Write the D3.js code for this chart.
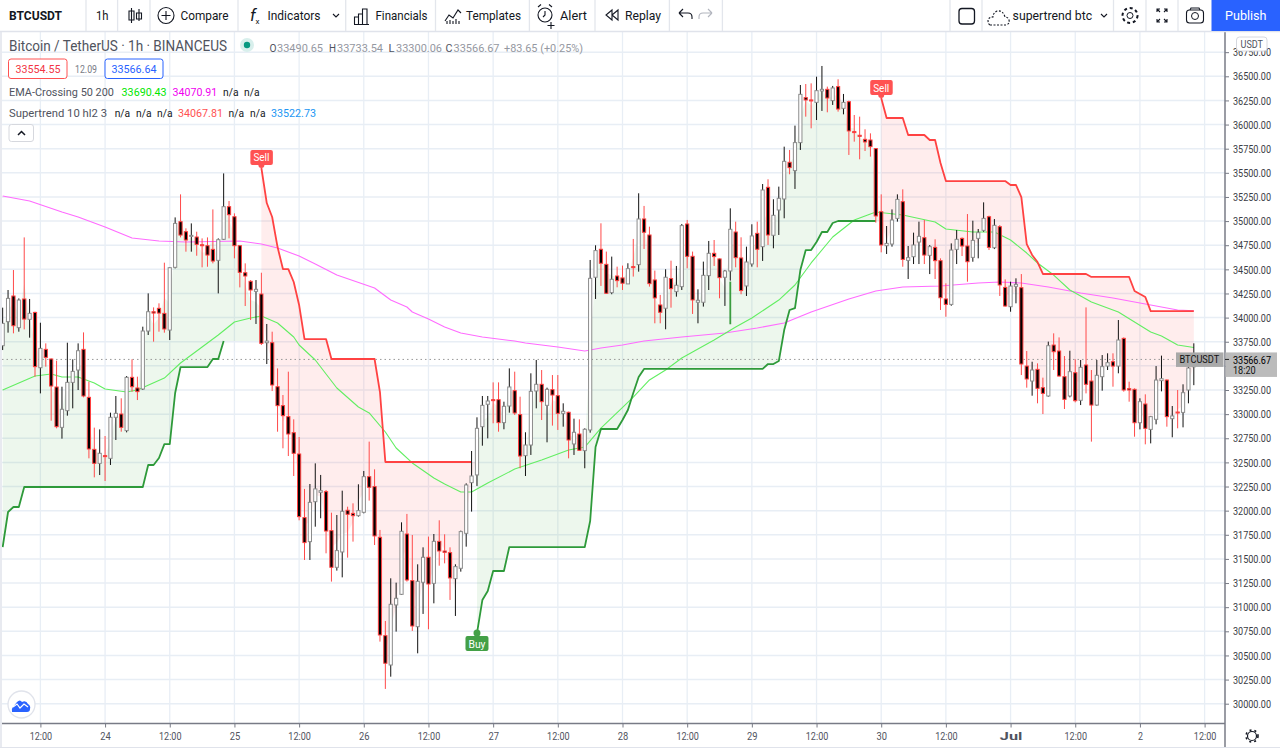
<!DOCTYPE html>
<html><head><meta charset="utf-8">
<style>html,body{margin:0;padding:0;background:#fff;overflow:hidden}svg{display:block}text{font-family:Roboto,sans-serif}</style>
<script src="https://cdnjs.cloudflare.com/ajax/libs/d3/7.8.5/d3.min.js"></script>
</head><body><svg id="c" width="1280" height="748"></svg>
<script>
// ---------- DATA: hourly candles ----------
const firstHour = 5; // hours counted from 23 Jun 00:00
const opens = [33709,33958,34224,33896,34193,33982,34054,33481,33671,33571,33281,32863,33036,33329,33457,33671,33174,32635,32490,32570,32542,32967,33001,32829,33381,33271,33260,33861,34061,34096,34044,33871,34521,34994,34890,34845,34835,34755,34745,34707,34593,34811,35149,35045,34745,34465,34376,34272,34244,33740,33740,33284,33088,32974,32808,32587,31928,31679,32093,32190,32197,31793,31413,31572,32004,31972,31948,31983,32352,32249,31724,30705,30401,31023,31133,31758,31275,30798,31258,31517,31247,31682,31582,31565,31296,31403,31765,32290,32370,32870,33102,33150,33150,32912,33084,33243,32995,32570,32680,33240,33309,33091,33254,33191,33008,33019,32691,32794,32622,32836,34418,34708,34552,34259,34431,34411,34349,34528,34549,35022,34856,34390,34131,34097,34404,34269,34321,34970,34635,34159,34159,34435,34666,34608,34418,34483,34887,34618,34328,34556,34873,34735,35350,34853,35115,35229,35609,35523,35813,36279,36255,36230,36348,36365,36248,36393,36168,36237,35927,35889,35847,35840,35751,35097,34745,34762,35028,35201,34593,34631,34783,34828,34645,34728,34590,34193,34137,34707,34821,34742,34624,34821,34904,35045,34724,34942,34313,34113,34324,34310,33498,33343,33464,33274,33188,33716,33654,33388,33188,33429,33143,33509,33343,33094,33388,33498,33543,33498,33785,33264,33257,32911,33105,32842,32946,33347,33353,32953,33022,33018,33250,33490.65];
const highs = [34103,34286,34493,34199,34831,34193,34061,33947,33733,33578,33554,33284,33740,33568,33733,33847,33336,32860,32842,32773,33015,33188,33164,33395,33568,33388,33906,34251,34106,34148,34569,34521,35038,35277,34925,34976,34890,34821,34831,35121,34821,35494,35208,35080,34752,34562,34389,34389,34465,33934,33854,33474,33198,33440,32946,32763,32225,32276,32490,32370,32214,31979,31955,32207,32041,32076,32273,32411,32715,32428,31800,30857,31299,31254,31879,31966,31748,31444,31620,31731,31758,31900,31755,31620,31444,31793,32283,32618,32967,33188,33188,33329,33329,33129,33474,33440,33181,32812,33423,33561,33457,33274,33405,33405,33112,33026,32953,32946,32853,34597,34749,34977,34684,34632,34528,34539,34563,34815,35288,35157,34942,34487,34235,34501,34590,34535,34970,35012,34684,34293,34580,34794,34804,34614,34494,35132,34994,34832,34735,34967,34994,35384,35433,35226,35357,35771,35737,35989,36410,36420,36427,36496,36607,36393,36400,36469,36317,36248,36099,36082,35951,35909,35754,35277,34949,35121,35277,35329,34742,34880,34994,35011,34752,34811,34614,34355,34769,34907,34831,35073,35004,34918,35194,35056,35021,34959,34396,34372,34407,34451,33654,33543,33526,33378,33751,33837,33795,33602,33657,33568,33561,34106,33457,33561,33612,33630,33630,33975,33795,33336,33267,33164,33205,32981,33498,33606,33360,33084,33250,33309,33492,33733.54];
const lows = [33664,33844,33837,33854,33878,33792,33388,33215,33492,32932,32853,32746,32984,33060,33250,33174,32542,32345,32369,32307,32473,32732,32818,32811,33233,33146,33250,33820,33751,33854,33844,33768,34510,34831,34683,34683,34641,34521,34527,34562,34251,34804,34821,34614,34313,34120,33975,33934,33716,33519,33239,32818,32646,32566,32359,31900,31489,31489,31834,31921,31558,31265,31379,31309,31513,31679,31938,31972,32104,31644,30643,30153,30280,30747,31126,31265,30754,30522,30930,30771,31040,31430,31454,31075,30909,31368,31627,31990,32256,32673,32749,32905,32818,32843,33015,32991,32439,32359,32577,33060,32939,32708,32881,32836,32870,32542,32577,32622,32439,32808,34193,34328,34245,34242,34314,34286,34349,34425,34476,34711,34321,33941,33941,33879,34103,34217,34286,34511,34038,33941,34114,34286,34535,34200,34121,34383,34521,34242,34224,34528,34521,34587,34753,34718,34856,35029,35485,35333,35737,36082,35961,36047,36141,36127,36203,36134,36106,35685,35823,35640,35726,35668,34984,34676,34659,34735,34994,34527,34400,34555,34555,34555,34451,34400,34079,34009,34123,34555,34638,34372,34579,34614,34890,34700,34710,34224,34113,34061,34148,33405,33274,33191,33112,33001,33181,33457,33388,33053,33174,33122,33094,33215,32715,33088,33243,33457,33284,33423,33233,33129,32766,32842,32687,32697,32894,33236,32870,32760,32853,32863,33112,33300.06];
const closes = [33940,34199,33916,34182,33985,34044,33492,33681,33588,33291,32870,33050,33329,33443,33657,33188,32639,32490,32594,32563,32967,33008,32863,33381,33284,33233,33861,34061,34047,34047,33882,34517,34976,34855,34804,34852,34759,34748,34648,34586,34807,35149,35066,34745,34469,34431,34286,34293,33733,33757,33302,33088,32984,32794,32594,31938,31669,32086,32225,32207,31789,31413,31586,31993,31962,31948,32000,32352,32242,31738,30712,30419,31030,31092,31786,31282,30805,31268,31517,31240,31682,31582,31568,31303,31420,31783,32266,32359,32853,33091,33136,33143,32912,33081,33281,33012,32566,32680,33236,33309,33129,33257,33198,33008,33029,32732,32812,32625,32843,34407,34694,34563,34252,34397,34383,34356,34507,34518,35022,34884,34352,34204,34055,34418,34300,34335,34953,34635,34183,34179,34438,34666,34632,34414,34483,34915,34621,34280,34576,34846,34708,35322,34856,35060,35236,35619,35554,35813,36313,36255,36251,36351,36365,36275,36379,36161,36230,35934,35920,35878,35820,35771,35053,34752,34769,35011,35225,34603,34621,34752,34842,34648,34735,34590,34206,34137,34700,34811,34742,34579,34800,34880,35028,34728,34956,34338,34120,34327,34344,33519,33364,33457,33267,33215,33709,33647,33395,33153,33440,33139,33485,33309,33094,33402,33492,33533,33498,33768,33250,33250,32911,33129,32853,32974,33353,33367,32974,32981,33015,33222,33478,33566.67];

// Supertrend segments (hour, price at each vertex)
const upA_h = [5,6,7,8,9,31,32,33,34,35,36,37,38,43,44,45,46,53];
const upA_p = [31623,31986,32038,32038,32245,32245,32473,32473,32545,32690,32690,33219,33488,33488,33571,33571,33757,33757];
const downA_h = [53,54,55,56,57,58,59,60,61,65,66,74,75,76,92];
const downA_p = [35550,35187,35042,34731,34503,34503,34369,34131,33778,33778,33571,33571,33229,32504,32504];
const upB_h = [93,94,95,96,98,99,113,114,115,116,119,120,121,122,123,124,146,147,148,149,150,151,152,153,154,155,156,157,158,159,160,167];
const upB_p = [30732,31074,31168,31375,31375,31623,31623,31893,32659,32846,32846,32939,33043,33219,33385,33468,33468,33519,33519,33550,33871,34079,34099,34493,34700,34700,34783,34887,34887,34980,35001,35001];
const downB_h = [168,169,172,173,176,177,178,179,180,191,192,193,194,195,196,197,198,206,207,214,215,216,217,218,226];
const downB_p = [36275,36068,36068,35892,35892,35840,35840,35602,35415,35415,35374,35374,35249,34762,34649,34576,34452,34452,34421,34421,34276,34244,34213,34067,34067];

// EMA lines
const ema200_h = [5,10,16,19,24,29,34,39,49,53,56,60,63,67,74,77,80,81,84,87,90,94,100,102,108,113,116,120,124,131,139,145,150,155,162,167,172,179,186,190,194,199,205,211,217,223,226];
const ema200_p = [35260,35208,35094,35042,34939,34825,34794,34783,34794,34762,34721,34638,34555,34441,34307,34182,34110,34058,33985,33903,33840,33799,33757,33737,33695,33654,33685,33716,33757,33799,33840,33892,33944,34058,34193,34276,34317,34327,34358,34369,34358,34317,34255,34203,34141,34079,34071];
const ema50_h = [5,8,11,14,16,19,22,24,28,30,35,38,42,45,48,51,53,56,59,60,63,67,71,73,76,78,81,85,87,90,92,95,100,105,110,113,116,122,125,128,131,133,137,141,144,149,152,155,159,163,167,172,178,180,185,189,192,195,197,200,203,207,212,218,220,223,226];
const ema50_p = [33250,33322,33395,33416,33385,33385,33322,33260,33229,33250,33374,33530,33695,33820,33954,33996,34017,33944,33799,33716,33561,33271,33074,33012,32815,32649,32494,32338,32276,32193,32193,32286,32431,32525,32628,32659,32856,33177,33354,33457,33581,33644,33768,33903,33996,34182,34338,34566,34835,35011,35094,35063,34990,34918,34887,34887,34804,34669,34566,34441,34286,34162,34058,33851,33809,33716,33690];

// Buy / sell signals
const signalHours = [53,93,168];
const signalPrices = [35550,30732,36275];
const signalLabels = ['Sell','Buy','Sell'];

// Odd green wick segment seen below one candle
const greenWickHour = 140, greenWickPrices = [34373,33931];

// Ticks
const priceTicks = d3.range(30000,36751,250);
const hiddenPriceLabel = 33500; // sits under the last-price tag in the reference
const timeTickHours = d3.range(12,229,12);
const timeTickLabels = ['12:00','24','12:00','25','12:00','26','12:00','27','12:00','28','12:00','29','12:00','30','12:00','Jul','12:00','2','12:00'];
const lastPrice = 33566.67;

// ---------- SCALES ----------
const xS = d3.scaleLinear().domain([12,228]).range([40.4,1204.6]);
const yS = d3.scaleLinear().domain([30000,36500]).range([703.7,76.3]);
const paneR = 1225, paneT = 32, paneB = 723.5;

const svg = d3.select('#c');
const C = {grid:'#e8eef5',axis:'#787b86',up:'#000',upB:'#8c8c8c',dn:'#ff4a4a',txt:'#50535e',grey:'#787b86',sep:'#e3e6ec'};
svg.append('defs').append('clipPath').attr('id','pane').append('rect').attr('x',2).attr('y',paneT).attr('width',paneR-2).attr('height',paneB-paneT);

function tx(g,str,x,y,w,size,fill,o={}){
  return g.append('text').text(str).attr('x',x).attr('y',y).attr('font-size',size).attr('fill',fill)
    .attr('font-weight',o.bold?700:400).attr('text-anchor',o.anchor||'start').attr('textLength',w).attr('lengthAdjust','spacingAndGlyphs');
}

// ---------- GRID ----------
const grid = svg.append('g');
grid.selectAll('.h').data(priceTicks).join('line').attr('x1',2).attr('x2',paneR).attr('y1',d=>yS(d)).attr('y2',d=>yS(d)).attr('stroke',C.grid).attr('stroke-width',1.5);
grid.selectAll('.v').data(timeTickHours).join('line').attr('x1',d=>xS(d)).attr('x2',d=>xS(d)).attr('y1',paneT).attr('y2',paneB).attr('stroke',C.grid).attr('stroke-width',1.3);

const pane = svg.append('g').attr('clip-path','url(#pane)');

// ---------- FILLS between supertrend and candle mid ----------
const hl2 = h => { const i = h-firstHour; return (highs[i]+lows[i])/2; };
function fillSeg(hs,ps,h0,h1,color){
  const st = d3.scaleLinear().domain(hs).range(ps).clamp(true);
  const hrs = d3.range(h0,h1+1);
  const a = d3.area().x(h=>xS(h)).y0(h=>yS(st(h))).y1(h=>yS(hl2(h)));
  pane.append('path').attr('d',a(hrs)).attr('fill',color);
}
fillSeg(upA_h,upA_p,5,53,'rgba(76,175,80,0.10)');
fillSeg(downA_h,downA_p,53,93,'rgba(255,82,82,0.10)');
fillSeg(upB_h,upB_p,93,168,'rgba(76,175,80,0.10)');
fillSeg(downB_h,downB_p,168,226,'rgba(255,82,82,0.10)');

// last price dotted line
pane.append('line').attr('x1',2).attr('x2',paneR).attr('y1',yS(lastPrice)).attr('y2',yS(lastPrice)).attr('stroke','#999').attr('stroke-width',1).attr('stroke-dasharray','1.5 3');

// ---------- LINES ----------
const lineOf = (hs,ps,color,w) => pane.append('path')
  .attr('d',d3.line().x((d,i)=>xS(hs[i])).y((d,i)=>yS(ps[i]))(ps))
  .attr('fill','none').attr('stroke',color).attr('stroke-width',w).attr('stroke-linejoin','round');
lineOf(ema200_h,ema200_p,'#ff6bff',1.1);
lineOf(ema50_h,ema50_p,'#62ee62',1.1);
lineOf(upA_h.slice(0,-1),upA_p.slice(0,-1),'#2e9a3a',1.8);
lineOf(upB_h,upB_p,'#2e9a3a',1.8);
lineOf(downA_h,downA_p,'#ff4242',1.8);
lineOf(downB_h,downB_p,'#ff4242',1.8);

// ---------- CANDLES ----------
pane.append('line').attr('x1',xS(greenWickHour)).attr('x2',xS(greenWickHour)).attr('y1',yS(greenWickPrices[0])).attr('y2',yS(greenWickPrices[1])).attr('stroke','#3a9c3f').attr('stroke-width',1.8);
const candles = pane.append('g').selectAll('g').data(opens.map((o,i)=>i)).join('g');
const isUp = i => closes[i]>=opens[i];
candles.append('line')
  .attr('x1',i=>xS(firstHour+i)).attr('x2',i=>xS(firstHour+i))
  .attr('y1',i=>yS(highs[i])).attr('y2',i=>yS(lows[i]))
  .attr('stroke',i=>isUp(i)?'#111':'#ff4a4a').attr('stroke-width',1);
candles.append('rect')
  .attr('x',i=>xS(firstHour+i)-1.6).attr('width',3.2)
  .attr('y',i=>yS(Math.max(opens[i],closes[i])))
  .attr('height',i=>Math.max(1,Math.abs(yS(opens[i])-yS(closes[i]))))
  .attr('fill',i=>isUp(i)?'#fff':'#000')
  .attr('stroke',i=>isUp(i)?C.upB:'#ff4040').attr('stroke-width',1);

// ---------- SIGNAL LABELS ----------
const sig = pane.append('g').selectAll('g').data(signalLabels.map((s,i)=>i)).join('g')
  .attr('transform',i=>`translate(${xS(signalHours[i])},${yS(signalPrices[i])})`);
sig.each(function(i){
  const g = d3.select(this), sell = signalLabels[i]==='Sell', col = sell?'#ff5252':'#43a047';
  if(sell){
    g.append('circle').attr('cy',-3).attr('r',3).attr('fill',col);
    g.append('rect').attr('x',-11).attr('y',-18).attr('width',22.5).attr('height',15).attr('rx',2).attr('fill',col);
    tx(g,'Sell',-8,-6.5,16,11,'#fff');
  } else {
    g.append('circle').attr('r',3.5).attr('fill',col);
    g.append('rect').attr('x',-11.5).attr('y',3).attr('width',23).attr('height',15).attr('rx',2).attr('fill',col);
    tx(g,'Buy',-8.5,14.5,17,11,'#fff');
  }
});

// ---------- AXES ----------
const yAxis = svg.append('g').attr('transform',`translate(${paneR},0)`)
  .call(d3.axisRight(yS).tickValues(priceTicks).tickSize(4).tickPadding(4).tickFormat(d=>d===hiddenPriceLabel?'':d3.format('.2f')(d)));
yAxis.select('.domain').remove();
yAxis.selectAll('line').attr('stroke',C.axis);
yAxis.selectAll('text').filter(d=>d===hiddenPriceLabel).remove();
yAxis.selectAll('text').attr('font-size',11.5).attr('fill','#3b3d45').attr('textLength',38).attr('lengthAdjust','spacingAndGlyphs').attr('font-family','Roboto');
const xAxis = svg.append('g').attr('transform',`translate(0,${paneB})`)
  .call(d3.axisBottom(xS).tickValues(timeTickHours).tickSize(4).tickPadding(4).tickFormat((d,i)=>timeTickLabels[i]));
xAxis.select('.domain').remove();
xAxis.selectAll('line').attr('stroke',C.axis);
xAxis.selectAll('text').attr('font-size',11.5).attr('fill','#50535e').attr('font-family','Roboto')
  .attr('font-weight',(d,i)=>timeTickLabels[i]==='Jul'?700:400)
  .attr('textLength',(d,i)=>timeTickLabels[i].length>2?22.5:(timeTickLabels[i].length>1?10.5:5))
  .attr('lengthAdjust','spacingAndGlyphs');
svg.append('line').attr('x1',2).attr('x2',paneR).attr('y1',paneB).attr('y2',paneB).attr('stroke',C.axis).attr('stroke-width',1.5);
svg.append('line').attr('x1',paneR).attr('x2',paneR).attr('y1',paneT).attr('y2',748).attr('stroke',C.axis).attr('stroke-width',1.5);
svg.append('line').attr('x1',1).attr('x2',1).attr('y1',paneT).attr('y2',748).attr('stroke','#e0e3eb').attr('stroke-width',1.5);
svg.append('line').attr('x1',0).attr('x2',1280).attr('y1',747.5).attr('y2',747.5).attr('stroke','#e0e3eb');

// ---------- PRICE TAGS ----------
const ly = yS(lastPrice);
svg.append('rect').attr('x',1176).attr('y',ly-7).attr('width',47.5).attr('height',14.5).attr('fill','#a9a9a9');
tx(svg,'BTCUSDT',1179.5,ly+4,39.7,11,'#111');
svg.append('rect').attr('x',paneR+.5).attr('y',ly-7).attr('width',51.5).attr('height',24.5).attr('fill','#bbbbbb');
svg.append('line').attr('x1',paneR).attr('x2',paneR+4).attr('y1',ly).attr('y2',ly).attr('stroke','#222');
tx(svg,'33566.67',1233,ly+4.3,38,11.5,'#000');
tx(svg,'18:20',1233,ly+14.5,22.7,11.5,'#111');
svg.append('rect').attr('x',1236.5).attr('y',37).attr('width',30.5).attr('height',14).attr('rx',3).attr('fill','#fff').attr('stroke','#d6d8de');
tx(svg,'USDT',1240.5,47.8,22.5,10.5,'#50535e');

// ---------- LEGENDS ----------
const L = svg.append('g');
tx(L,'Bitcoin / TetherUS · 1h · BINANCEUS',9,50.5,218,14.5,C.txt);
L.append('circle').attr('cx',247).attr('cy',45).attr('r',7).attr('fill','#d8efec');
L.append('circle').attr('cx',247).attr('cy',45).attr('r',3.2).attr('fill','#089981');
const ohlcX = [[269.5,'O',7],[277,'33490.65',46],[329,'H',7],[337,'33733.54',46],[388.5,'L',6],[396,'33300.06',46],[445.5,'C',7],[453.5,'33566.67',46],[504,'+83.65 (+0.25%)',79]];
ohlcX.forEach((d,i)=>tx(L,d[1],d[0],51.5,d[2],11.5,(i<8&&i%2==0)?'#50535e':'#9598a1'));
L.append('rect').attr('x',8.5).attr('y',59).attr('width',58.5).attr('height',19.5).attr('rx',2.5).attr('fill','#fff').attr('stroke','#ff5252');
tx(L,'33554.55',15.5,73,45,11.5,'#f23645');
tx(L,'12.09',75,72.5,22,10.5,'#787b86');
L.append('rect').attr('x',105).attr('y',59).attr('width',58).attr('height',19.5).attr('rx',2.5).attr('fill','#fff').attr('stroke','#2962ff');
tx(L,'33566.64',111.5,73,45,11.5,'#2962ff');
tx(L,'EMA-Crossing 50 200',9,96.3,105,11.5,C.txt);
tx(L,'33690.43',121.6,96.3,45,11.5,'#00e600');
tx(L,'34070.91',172.6,96.3,44.5,11.5,'#f000f0');
tx(L,'n/a',223,96.3,15.5,11.5,'#131722');
tx(L,'n/a',244,96.3,15.5,11.5,'#131722');
tx(L,'Supertrend 10 hl2 3',9,117,98,11.5,C.txt);
tx(L,'n/a',114.7,117,15.5,11.5,'#131722');
tx(L,'n/a',136,117,15.5,11.5,'#131722');
tx(L,'n/a',157,117,15.5,11.5,'#131722');
tx(L,'34067.81',178,117,45,11.5,'#ff5252');
tx(L,'n/a',228.6,117,15.5,11.5,'#131722');
tx(L,'n/a',250,117,15.5,11.5,'#131722');
tx(L,'33522.73',271,117,45,11.5,'#2196f3');
L.append('rect').attr('x',9).attr('y',124.5).attr('width',24.5).attr('height',17).attr('rx',2.5).attr('fill','#fff').attr('stroke','#d6d8de');
L.append('path').attr('d','M18 135l3.5-3.5l3.5 3.5').attr('fill','none').attr('stroke','#131722').attr('stroke-width',1.5);

// ---------- TOOLBAR ----------
const T = svg.append('g');
T.append('rect').attr('width',1280).attr('height',31).attr('fill','#fff');
T.append('line').attr('x1',0).attr('x2',1280).attr('y1',31.5).attr('y2',31.5).attr('stroke','#e0e3eb').attr('stroke-width',1.5);
[86,117.6,150,238,345.7,435.5,529.4,595,669.4,722.4,950,982,1113.5,1146,1178].forEach(x=>T.append('line').attr('x1',x).attr('x2',x).attr('y1',0).attr('y2',31).attr('stroke',C.sep).attr('stroke-width',1.3));
T.append('rect').attr('x',1211.5).attr('width',68.5).attr('height',31).attr('fill','#2962ff');
tx(T,'BTCUSDT',9,19.5,53,12.5,'#131722',{bold:true});
tx(T,'1h',96,19.5,12.5,13,'#131722');
tx(T,'Compare',180.5,19.5,48,13,'#131722');
tx(T,'Indicators',267.5,19.5,53,13,'#131722');
tx(T,'Financials',375.5,19.5,52,13,'#131722');
tx(T,'Templates',466,19.5,55,13,'#131722');
tx(T,'Alert',560,19.5,27,13,'#131722');
tx(T,'Replay',625,19.5,36,13,'#131722');
tx(T,'supertrend btc',1012.6,19.5,79.5,13,'#131722');
tx(T,'Publish',1225,20,41.5,13.5,'#fff');
const ic = (d,w=1.1,col='#131722') => T.append('path').attr('d',d).attr('fill','none').attr('stroke',col).attr('stroke-width',w);
ic('M131.5 8v15M129 11h5v9h-5zM139 9v12M136.5 13h5v6h-5z');
T.append('circle').attr('cx',166).attr('cy',15.5).attr('r',8).attr('fill','none').attr('stroke','#131722').attr('stroke-width',1.1);
ic('M166 11v9M161.5 15.5h9');
T.append('text').text('f').attr('x',250).attr('y',21).attr('font-size',17).attr('font-style','italic').attr('font-family','Liberation Serif').attr('fill','#131722');
T.append('text').text('x').attr('x',255.5).attr('y',24).attr('font-size',8).attr('fill','#131722');
ic('M333 14l3 3l3-3');
ic('M354.5 24v-7h4v7M358.5 24v-10h4v10M362.5 24v-15h4.5v15M354 24.5h15');
ic('M445 21l4-6l4 3l5-8l3 3M447 24v-3M450 24v-4M453 24v-3M456 24v-5M459 24v-3');
T.append('circle').attr('cx',545).attr('cy',15).attr('r',7).attr('fill','none').attr('stroke','#131722').attr('stroke-width',1.1);
ic('M545 11v4l-2 2M538 7l3-2.5M552 7l-3-2.5M551 22v7M547.5 25.5h7');
ic('M612 10l-6 5l6 5zM618 10l-6 5l6 5z');
ic('M679 13l4-4M679 13l4 4M679 13h9q4 0 4 4v2');
ic('M712 13l-4-4M712 13l-4 4M712 13h-9q-4 0-4 4v2',1.1,'#b2b5be');
T.append('rect').attr('x',959).attr('y',8.5).attr('width',15.5).attr('height',15.5).attr('rx',3).attr('fill','none').attr('stroke','#131722').attr('stroke-width',1.3);
ic('M990 25h16q4-1 3-5q-1-3-4-3q-2-7-8-6q-4 2-4 6q-4 0-5 3q0 4 2 5').attr('stroke-dasharray','2 1.5');
ic('M1101 14l3 3l3-3');
T.append('circle').attr('cx',1130).attr('cy',15.5).attr('r',7.5).attr('fill','none').attr('stroke','#131722').attr('stroke-width',2).attr('stroke-dasharray','3 2.8');
T.append('circle').attr('cx',1130).attr('cy',15.5).attr('r',3).attr('fill','none').attr('stroke','#131722');
ic('M1157 12V9h3M1167 12V9h-3M1157 19v3h3M1167 19v3h-3M1157 9l3 3M1167 9l-3 3M1157 22l3-3M1167 22l-3-3');
T.append('rect').attr('x',1186.5).attr('y',10).attr('width',17).attr('height',13).attr('rx',3).attr('fill','none').attr('stroke','#131722').attr('stroke-width',1.1);
T.append('circle').attr('cx',1195).attr('cy',16).attr('r',3.5).attr('fill','none').attr('stroke','#131722');
ic('M1190 10l1-2h8l1 2');

// ---------- BOTTOM WIDGETS ----------
svg.append('circle').attr('cx',21.5).attr('cy',704.5).attr('r',13.5).attr('fill','#fff').attr('stroke','#e0e3eb').attr('stroke-width',1.3);
svg.append('path').attr('d','M12 712q-1-3 1-5l4-5q3-3 5 0q4-2 6 2q3 2 2 5q0 3-3 3z').attr('fill','#2962ff');
svg.append('path').attr('d','M13 707l4-3l3 4l4-4l4 3').attr('fill','none').attr('stroke','#fff').attr('stroke-width',1.2);
svg.append('circle').attr('cx',1252).attr('cy',736).attr('r',4.5).attr('fill','none').attr('stroke','#131722').attr('stroke-width',1.2);
svg.append('circle').attr('cx',1252).attr('cy',736).attr('r',6).attr('fill','none').attr('stroke','#131722').attr('stroke-width',1.6).attr('stroke-dasharray','2 3');
</script></body></html>
